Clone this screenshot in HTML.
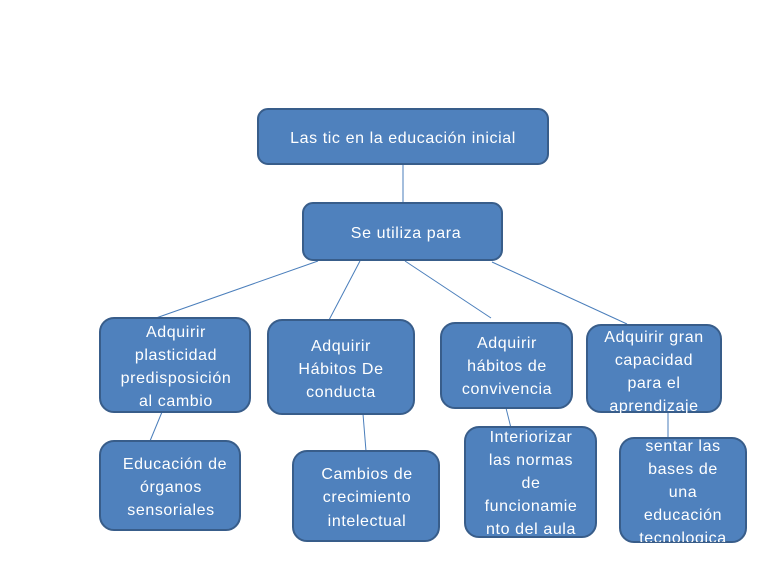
<!DOCTYPE html>
<html><head><meta charset="utf-8"><style>
html,body{margin:0;padding:0;background:#fff;}
svg{display:block;}
text{font-family:"Liberation Sans",sans-serif;font-size:16px;letter-spacing:0.6px;fill:#fff;text-anchor:middle;}
rect{fill:#4f81bd;stroke:#385d8a;stroke-width:2;}
line{stroke:#4a7ebb;stroke-width:1;}
</style></head><body>
<svg width="768" height="576" viewBox="0 0 768 576">
<defs>
<clipPath id="cg"><rect x="465" y="427" width="131" height="110" rx="14"/></clipPath>
<clipPath id="ch"><rect x="620" y="438" width="126" height="104" rx="14"/></clipPath>
</defs>
<line x1="403" y1="164" x2="403" y2="203"/>
<line x1="318" y1="261" x2="156" y2="318"/>
<line x1="360" y1="261" x2="329" y2="320"/>
<line x1="405" y1="261" x2="491" y2="318"/>
<line x1="492" y1="262" x2="627" y2="324"/>
<line x1="162" y1="412" x2="150" y2="441"/>
<line x1="363" y1="414" x2="366" y2="451"/>
<line x1="506" y1="408" x2="511" y2="428"/>
<line x1="668" y1="412" x2="668" y2="438"/>

<rect x="258" y="109" width="290" height="55" rx="10"/>
<text x="403" y="143">Las tic en la educación inicial</text>
<rect x="303" y="203" width="199" height="57" rx="10"/>
<text x="406" y="238">Se utiliza para</text>

<rect x="100" y="318" width="150" height="94" rx="14"/>
<text x="176" y="337">Adquirir</text><text x="176" y="360">plasticidad</text><text x="176" y="383">predisposición</text><text x="176" y="406">al cambio</text>
<rect x="268" y="320" width="146" height="94" rx="14"/>
<text x="341" y="351">Adquirir</text><text x="341" y="374">Hábitos De</text><text x="341" y="397">conducta</text>
<rect x="441" y="323" width="131" height="85" rx="14"/>
<text x="507" y="348">Adquirir</text><text x="507" y="371">hábitos de</text><text x="507" y="394">convivencia</text>
<rect x="587" y="325" width="134" height="87" rx="14"/>
<text x="654" y="342">Adquirir gran</text><text x="654" y="365">capacidad</text><text x="654" y="388">para el</text><text x="654" y="411">aprendizaje</text>

<rect x="100" y="441" width="140" height="89" rx="14"/>
<text x="175" y="469">Educación de</text><text x="171" y="492">órganos</text><text x="171" y="515">sensoriales</text>
<rect x="293" y="451" width="146" height="90" rx="14"/>
<text x="367" y="479">Cambios de</text><text x="367" y="502">crecimiento</text><text x="367" y="526">intelectual</text>
<rect x="465" y="427" width="131" height="110" rx="14"/>
<g clip-path="url(#cg)"><text x="531" y="442">Interiorizar</text><text x="531" y="465">las normas</text><text x="531" y="488">de</text><text x="531" y="511">funcionamie</text><text x="531" y="534">nto del aula</text></g>
<rect x="620" y="438" width="126" height="104" rx="14"/>
<g clip-path="url(#ch)"><text x="683" y="451">sentar las</text><text x="683" y="474">bases de</text><text x="683" y="497">una</text><text x="683" y="520">educación</text><text x="683" y="543">tecnologica</text></g>
</svg>
</body></html>
